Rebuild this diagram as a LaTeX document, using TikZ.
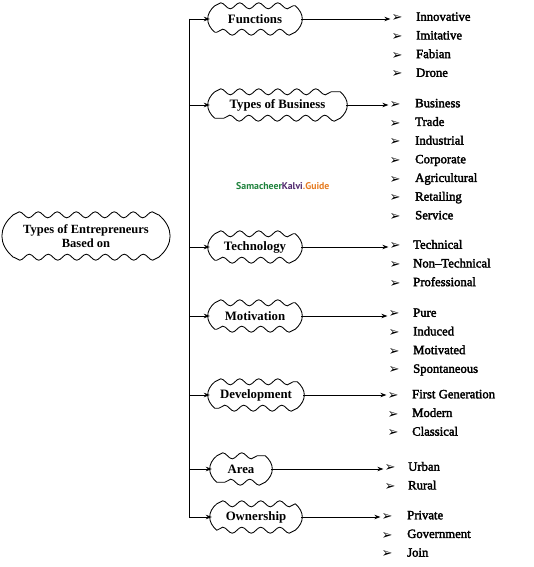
\documentclass[tikz,border=0pt]{standalone}
\usepackage{fontspec}
\setmainfont{Liberation Serif}
\newfontfamily\itemfont{Liberation Serif}[FakeBold=2.5]
\newfontfamily\bulletfont{DejaVu Sans}
\newfontfamily\wmfont{PT Sans}
\usetikzlibrary{decorations.pathmorphing,arrows.meta}
\definecolor{wmgreen}{RGB}{30,130,60}
\definecolor{wmpurple}{RGB}{80,40,110}
\definecolor{wmorange}{RGB}{230,125,35}
\tikzset{
  cat/.style={inner sep=0pt, minimum height=26pt, font=\bfseries\fontsize{12.8}{14}\selectfont},
  wframe/.style={line width=0.85pt, decoration={snake, amplitude=3pt, segment length=19pt}},
  conn/.style={line width=0.75pt},
  arr/.style={conn,-{Stealth[length=6pt,width=4.5pt]}},
  bul/.style={inner sep=0pt, font=\bulletfont\fontsize{13}{13}\selectfont},
  itm/.style={inner sep=0pt, anchor=mid west, font=\itemfont\fontsize{12.7}{14}\selectfont},
}
\newcommand{\wavyframe}[1]{%
  \draw[wframe] (#1.north west) decorate {-- (#1.north east)}
    to[out=-40,in=40,looseness=1.2] (#1.south east)
    decorate {-- (#1.south west)}
    to[out=140,in=220,looseness=1.2] (#1.north west);}
\newcommand{\itemlist}[5]{%
  \foreach \t [count=\i] in {#5} {
    \pgfmathsetmacro{\yy}{#4+(\i-1)*18.67}
    \node[bul] (#1b\i) at (#2,\yy) {➢};
    \node[itm] (#1t\i) at (#3,\yy) {\t};
  }}
\begin{document}
\begin{tikzpicture}[x=1pt,y=-1pt]
\fill[white] (0,0) rectangle (534,567);
\useasboundingbox (0,0) rectangle (534,567);
% main node
\node[cat, minimum width=145pt, minimum height=42pt, align=center,
      font=\bfseries\fontsize{12.5}{14.5}\selectfont] (main) at (86,236)
      {Types of Entrepreneurs\\Based on};
\wavyframe{main}
% categories
\node[cat, minimum width=80pt] (fn) at (255,19) {Functions};
\node[cat, minimum width=125pt] (tb) at (277.5,105) {Types of Business};
\node[cat, minimum width=80pt] (te) at (255,247) {Technology};
\node[cat, minimum width=80pt] (mo) at (255,316) {Motivation};
\node[cat, minimum width=82pt] (de) at (256,395) {Development};
\node[cat, minimum width=48pt] (ar) at (241,469) {Area};
\node[cat, minimum width=78pt] (ow) at (256,517) {Ownership};
\foreach \n in {fn,tb,te,mo,de,ar,ow} {\wavyframe{\n}}
% trunk
\coordinate (trunk) at (189,0);
\draw[conn, line cap=rect] (fn.west -| trunk) -- (ow.west -| trunk);
\foreach \n in {fn,tb,te,mo,de,ar,ow}
  \draw[arr] (\n.west -| trunk) -- ([xshift=-5pt]\n.west);
% item lists
\itemlist{fn}{397}{416}{18.5}{Innovative,Imitative,Fabian,Drone}
\itemlist{tb}{395}{415}{105}{Business,Trade,Industrial,Corporate,Agricultural,Retailing,Service}
\itemlist{te}{395}{413}{246.5}{Technical,Non–Technical,Professional}
\itemlist{mo}{394}{413}{314.5}{Pure,Induced,Motivated,Spontaneous}
\itemlist{de}{393}{412}{396}{First Generation,Modern,Classical}
\itemlist{ar}{390}{408}{468.5}{Urban,Rural}
\itemlist{ow}{387}{407}{517}{Private,Government,Join}
\foreach \n in {fn,tb,te,mo,de,ar,ow}
  \draw[arr] ([xshift=6pt]\n.east) -- ([xshift=-1pt]\n.east -| \n b1.west);
% watermark
\node[anchor=west, inner sep=0pt, font=\wmfont\bfseries\fontsize{9.8}{10}\selectfont] (wm) at (236,186)
  {\textcolor{wmgreen}{Samacheer}\textcolor{wmpurple}{Kalvi}\textcolor{wmorange}{.Guide}};
\end{tikzpicture}
\end{document}
